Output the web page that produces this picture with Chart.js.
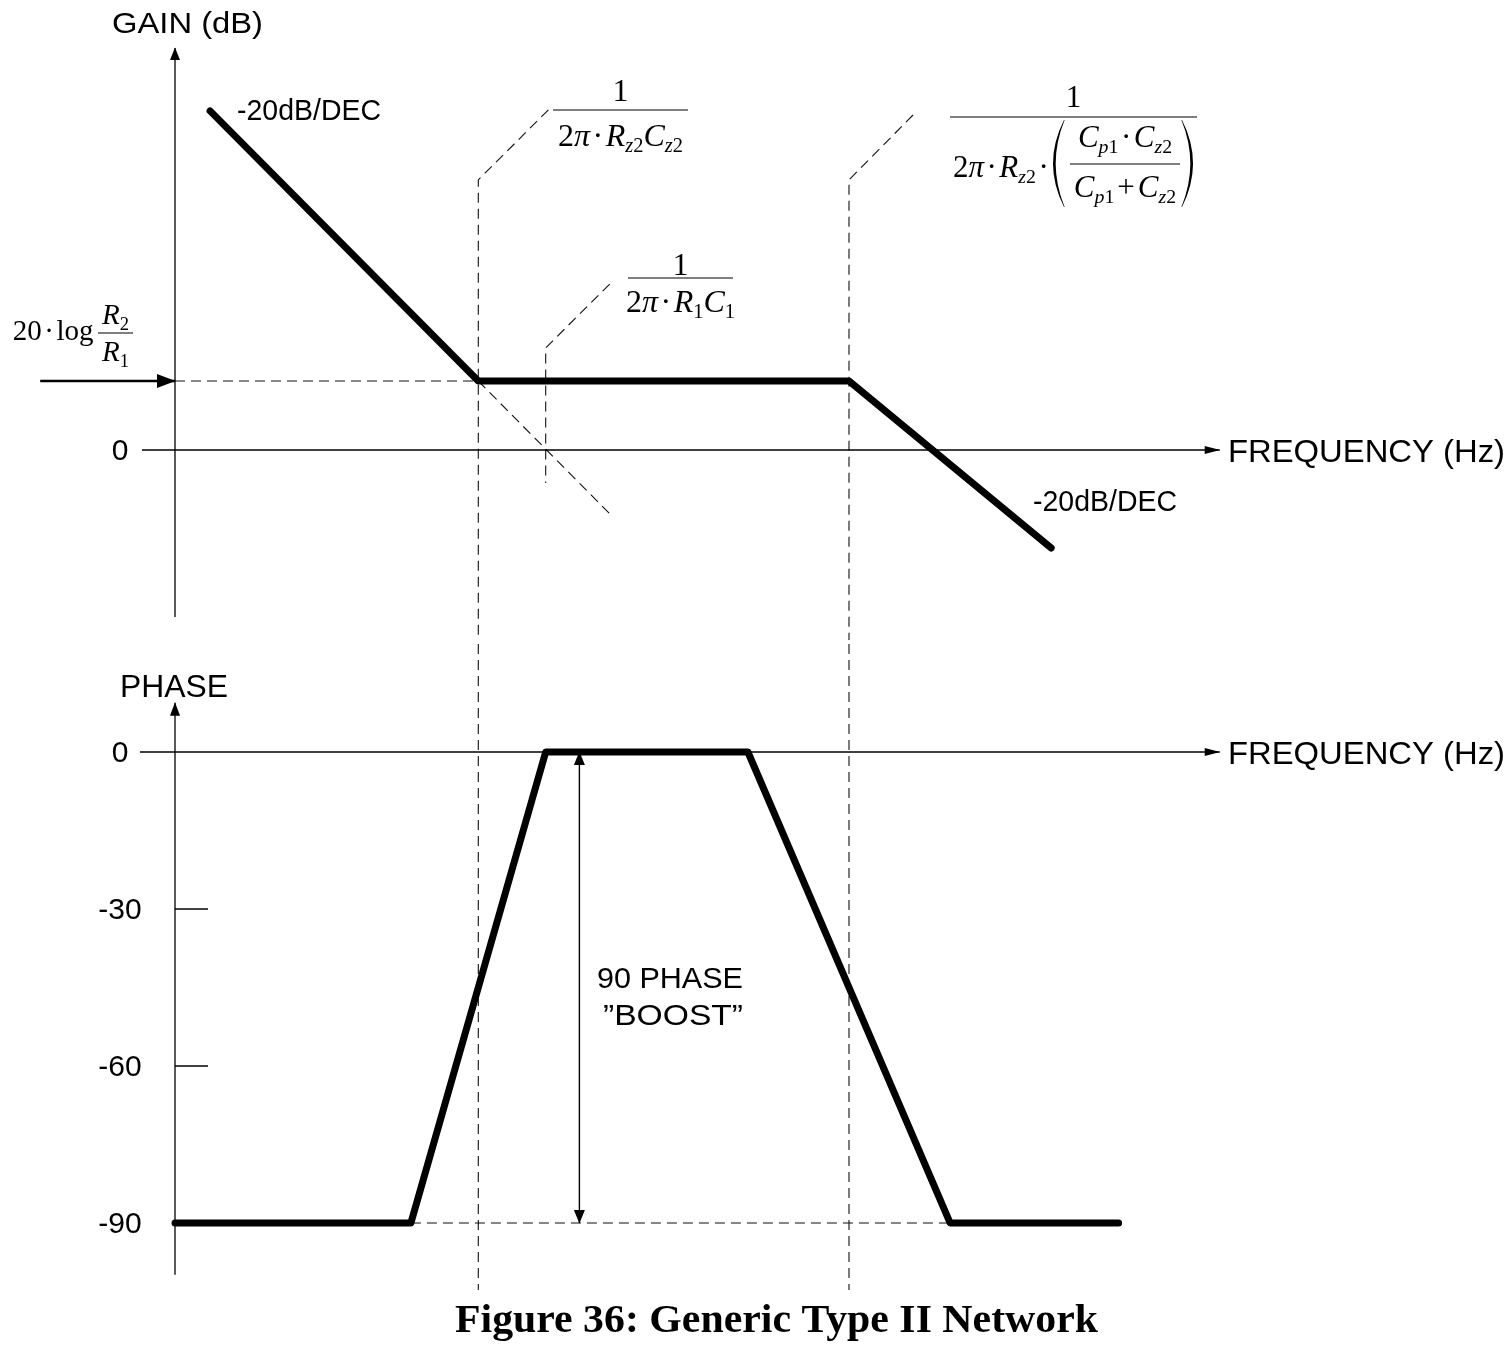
<!DOCTYPE html>
<html><head><meta charset="utf-8">
<script src="https://cdn.jsdelivr.net/npm/chart.js"></script>
<style>html,body{margin:0;padding:0;background:#fff;}canvas{display:block;}</style>
</head><body>
<canvas id="c" width="1507" height="1353"></canvas>
<script>
// ================= DATA (x = log-frequency in decades, schematic) =================
const gainFreq   = [0.52, 4.5, 10.0, 13.0];          // gain asymptote break points
const gainDb     = [98.3, 20, 20, -28.4];
const asymFreq   = [4.5, 6.45];                      // dashed continuation of -20 dB/dec slope
const asymDb     = [20, -18.5];
const phaseFreq  = [0, 3.5, 5.5, 8.5, 11.5, 14.0];
const phaseDeg   = [-90, -90, 0, 0, -90, -90];
const cornerFreq = [4.5, 5.5, 10.0];                 // 1/(2π Rz2Cz2), 1/(2π R1C1), pole
const leaderFreq = [5.54, 6.45, 10.95];              // slanted leader ends (to formulas)
const leaderDb   = [98.6, 48.1, 97.1];
const guideTopDb = [78.3, 29.6, 78.3];
const guideLowDb = [-55.1, -9.6, -55.1];
const guidePhaseDeg = [21.4, -102.8];                // continuation of fz / fp guides through phase plot
const midGainDb  = 20;                               // 20·log(R2/R1)
const phaseTickDeg = [0, -30, -60, -90];
const gainTickDb = [0];
const boostFreq  = 6.0;
const gainAxisDb   = [-48.4, 116.5];
const gainAxisFreq = [-0.49, 15.5];
const phaseAxisDeg = [-99.9, 9.4];
const phaseAxisFreq= [-0.52, 15.5];
const refArrowFreq = [-2.0, 0];
const tickLenDec = 0.49;

// ================= LAYOUT =================
const W = 1507, H = 1353;
const X0PX = 175, PX_PER_DEC = 67.4;
const G0PX = 450, PX_PER_DB = 3.45;
const P0PX = 752, PX_PER_DEG = 5.233;
const TEXT_DY = 2;

const pts = (xs, ys) => xs.map((x, i) => ({x, y: ys[i]}));
const base = {showLine: true, pointRadius: 0, pointHoverRadius: 0, fill: false, tension: 0};
const thick = {borderColor: '#000', borderWidth: 7, borderCapStyle: 'round', borderJoinStyle: 'round'};
const thin = {borderColor: '#000', borderWidth: 1.3};
const dash = {borderColor: '#111', borderWidth: 1.1, borderDash: [10, 6]};
const ds = (label, data, axis, style, extra) => Object.assign({label, data, yAxisID: axis}, base, style, extra || {});

const datasets = [
  ds('Gain', pts(gainFreq, gainDb), 'yG', thick),
  ds('Phase', pts(phaseFreq, phaseDeg), 'yP', thick),
  ds('gain y-axis', pts([0, 0], gainAxisDb), 'yG', thin, {arrow: {end: true, len: 12, half: 5}}),
  ds('gain x-axis', pts(gainAxisFreq, [0, 0]), 'yG', thin, {arrow: {end: true, len: 15, half: 4}}),
  ds('phase y-axis', pts([0, 0], phaseAxisDeg), 'yP', thin, {arrow: {end: true, len: 13, half: 5}}),
  ds('phase x-axis', pts(phaseAxisFreq, [0, 0]), 'yP', thin, {arrow: {end: true, len: 15, half: 4}}),
  ds('tick -30', pts([0, tickLenDec], [-30, -30]), 'yP', thin),
  ds('tick -60', pts([0, tickLenDec], [-60, -60]), 'yP', thin),
  ds('ref arrow', pts(refArrowFreq, [midGainDb, midGainDb]), 'yG', {borderColor: '#000', borderWidth: 2.4}, {arrow: {end: true, len: 18, half: 7}}),
  ds('boost arrow', pts([boostFreq, boostFreq], [0, -90]), 'yP', {borderColor: '#000', borderWidth: 1.4}, {arrow: {end: true, start: true, len: 13, half: 5.5}}),
  ds('mid gain ref', pts([0, cornerFreq[0]], [midGainDb, midGainDb]), 'yG', dash),
  ds('asymptote ext', pts(asymFreq, asymDb), 'yG', dash),
  ds('phase -90 ref', pts([phaseFreq[1], phaseFreq[4]], [-90, -90]), 'yP', dash),
];
cornerFreq.forEach((f, i) => {
  datasets.push(ds('guide ' + i, pts([leaderFreq[i], f, f], [leaderDb[i], guideTopDb[i], guideLowDb[i]]), 'yG', dash));
});
[0, 2].forEach(i => {
  datasets.push(ds('guide phase ' + i, pts([cornerFreq[i], cornerFreq[i]], guidePhaseDeg), 'yP', dash, {borderDashOffset: 12}));
});

// ================= TEXT =================
const SANS = '"Liberation Sans", Arial, Helvetica, sans-serif';
const SERIF = '"Liberation Serif", "Times New Roman", serif';
const labels = [
  {text: 'GAIN (dB)', x: -0.935, y: 123.9, axis: 'yG', size: 30, align: 'left', w: 151},
  {text: '-20dB/DEC', x: 0.92, y: 98.55, axis: 'yG', size: 29, align: 'left', w: 144},
  {text: 'FREQUENCY (Hz)', x: 15.623, y: -0.3, axis: 'yG', size: 31, align: 'left', w: 277},
  {text: '-20dB/DEC', x: 12.73, y: -14.78, axis: 'yG', size: 29, align: 'left', w: 144},
  {text: 'PHASE', x: -0.816, y: 12.61, axis: 'yP', size: 31, align: 'left', w: 108},
  {text: 'FREQUENCY (Hz)', x: 15.623, y: -0.19, axis: 'yP', size: 31, align: 'left', w: 277},
  {text: '90 PHASE', x: 7.344, y: -43.19, axis: 'yP', size: 30, align: 'center', w: 146},
  {text: '\u201DBOOST\u201D', x: 7.389, y: -50.3, axis: 'yP', size: 30, align: 'center', w: 140},
  {text: 'Figure 36: Generic Type II Network', x: 8.924, y: -108.54, axis: 'yP', size: 40, bold: true, serif: true, align: 'center', w: 643},
];
gainTickDb.forEach(v => labels.push({text: String(v), x: -0.816, y: v, axis: 'yG', size: 30, align: 'center'}));
phaseTickDeg.forEach(v => labels.push({text: String(v), x: -0.816, y: v, axis: 'yP', size: 30, align: 'center'}));

// formula pieces
const R = t => ({t}), I = t => ({t, i: 1}), Sb = (t, it) => ({t, s: 1, i: it ? 1 : 0});
const DOT = {t: '\u00B7', gl: 2.5, gr: 2.5}, PLUS = {t: '+', gl: 3, gr: 3};
const formulas = [
  {x: 6.61, y: 98.55, axis: 'yG', S: 32, barW: 135, num: [R('1')], numDy: -9,
   den: [R('2'), I('\u03C0'), DOT, I('R'), Sb('z', 1), Sb('2'), I('C'), Sb('z', 1), Sb('2')], denDy: 36},
  {x: 7.50, y: 49.86, axis: 'yG', S: 32, barW: 105, num: [R('1')], numDy: -3,
   den: [R('2'), I('\u03C0'), DOT, I('R'), Sb('1'), I('C'), Sb('1')], denDy: 34},
  {x: 13.331, y: 96.52, axis: 'yG', S: 31, barW: 247, num: [R('1')], numDy: -10,
   complex: {
     pre: [R('2'), I('\u03C0'), DOT, I('R'), Sb('z', 1), Sb('2'), DOT], preDx: -120.5, preDy: 60,
     parenL: -20.5, parenR: 119.5, parenTop: 3, parenBot: 90,
     inBarDx: 51.5, inBarDy: 47, inBarW: 110,
     inNum: [I('C'), Sb('p', 1), Sb('1'), DOT, I('C'), Sb('z', 1), Sb('2')], inNumDy: 30,
     inDen: [I('C'), Sb('p', 1), Sb('1'), PLUS, I('C'), Sb('z', 1), Sb('2')], inDenDy: 80 }},
  {x: -0.8828, y: 33.91, axis: 'yG', S: 29, barW: 35, num: [I('R'), Sb('2')], numDy: -9,
   den: [I('R'), Sb('1')], denDy: 28, pre: [R('20'), DOT, R('log')], preDx: -22, preDy: 7},
];

function segFont(sg, S) {
  const size = sg.s ? S * 0.64 : S;
  return (sg.i ? 'italic ' : '') + size + 'px ' + SERIF;
}
function richWidth(ctx, segs, S) {
  let w = 0;
  for (const sg of segs) { ctx.font = segFont(sg, S); w += ctx.measureText(sg.t).width + (sg.gl || 0) + (sg.gr || 0); }
  return w;
}
function drawRich(ctx, segs, x, baseY, S, align) {
  const w = richWidth(ctx, segs, S);
  let cx = align === 'center' ? x - w / 2 : align === 'right' ? x - w : x;
  ctx.textAlign = 'left'; ctx.textBaseline = 'alphabetic';
  for (const sg of segs) {
    ctx.font = segFont(sg, S);
    cx += sg.gl || 0;
    ctx.fillText(sg.t, cx, baseY + (sg.s ? S * 0.2 : 0));
    cx += ctx.measureText(sg.t).width + (sg.gr || 0);
  }
}
function bar(ctx, cx, y, w) {
  ctx.beginPath(); ctx.lineWidth = 1.2; ctx.moveTo(cx - w / 2, y); ctx.lineTo(cx + w / 2, y); ctx.stroke();
}
function paren(ctx, xEdge, top, bot, left) {
  const width = 11, thickP = 2.4, mid = (top + bot) / 2;
  const dir = left ? 1 : -1;
  const end = xEdge + dir * width;
  const cOut = 2 * xEdge - end;
  const cIn = 2 * (xEdge + dir * thickP) - end;
  ctx.beginPath();
  ctx.moveTo(end, top);
  ctx.quadraticCurveTo(cOut, mid, end, bot);
  ctx.lineTo(end + dir * 0.6, bot);
  ctx.quadraticCurveTo(cIn, mid, end + dir * 0.6, top);
  ctx.closePath(); ctx.fill();
}

const arrowPlugin = {
  id: 'arrows',
  afterDatasetsDraw(chart) {
    const ctx = chart.ctx;
    chart.data.datasets.forEach((d, i) => {
      if (!d.arrow) return;
      const p = chart.getDatasetMeta(i).data;
      const head = (tip, from) => {
        const a = Math.atan2(tip.y - from.y, tip.x - from.x);
        ctx.save(); ctx.translate(tip.x, tip.y); ctx.rotate(a);
        ctx.beginPath(); ctx.moveTo(0.5, 0); ctx.lineTo(-d.arrow.len, -d.arrow.half); ctx.lineTo(-d.arrow.len, d.arrow.half); ctx.closePath();
        ctx.fillStyle = d.borderColor; ctx.fill(); ctx.restore();
      };
      if (d.arrow.end) head(p[p.length - 1], p[p.length - 2]);
      if (d.arrow.start) head(p[0], p[1]);
    });
  }
};

const textPlugin = {
  id: 'texts',
  afterDraw(chart) {
    const ctx = chart.ctx, xs = chart.scales.x;
    ctx.save();
    ctx.fillStyle = '#000'; ctx.strokeStyle = '#000';
    for (const L of labels) {
      const px = xs.getPixelForValue(L.x), py = chart.scales[L.axis].getPixelForValue(L.y) + TEXT_DY;
      ctx.font = (L.bold ? 'bold ' : '') + L.size + 'px ' + (L.serif ? SERIF : SANS);
      const nat = ctx.measureText(L.text).width;
      const w = L.w || nat, sx = w / nat;
      const left = L.align === 'center' ? px - w / 2 : L.align === 'right' ? px - w : px;
      ctx.save(); ctx.translate(left, py); ctx.scale(sx, 1);
      ctx.textAlign = 'left'; ctx.textBaseline = 'middle';
      ctx.fillText(L.text, 0, 0); ctx.restore();
    }
    for (const F of formulas) {
      const cx = xs.getPixelForValue(F.x), cy = chart.scales[F.axis].getPixelForValue(F.y);
      bar(ctx, cx, cy, F.barW);
      drawRich(ctx, F.num, cx, cy + F.numDy, F.S, 'center');
      if (F.den) drawRich(ctx, F.den, cx, cy + F.denDy, F.S, 'center');
      if (F.pre) drawRich(ctx, F.pre, cx + F.preDx, cy + F.preDy, F.S, 'right');
      if (F.complex) {
        const C = F.complex;
        drawRich(ctx, C.pre, cx + C.preDx, cy + C.preDy, F.S, 'left');
        paren(ctx, cx + C.parenL, cy + C.parenTop, cy + C.parenBot, true);
        paren(ctx, cx + C.parenR, cy + C.parenTop, cy + C.parenBot, false);
        const ix = cx + C.inBarDx;
        bar(ctx, ix, cy + C.inBarDy, C.inBarW);
        drawRich(ctx, C.inNum, ix, cy + C.inNumDy, F.S, 'center');
        drawRich(ctx, C.inDen, ix, cy + C.inDenDy, F.S, 'center');
      }
    }
    ctx.restore();
  }
};

const gMax = G0PX / PX_PER_DB, pMax = P0PX / PX_PER_DEG;
new Chart(document.getElementById('c'), {
  type: 'scatter',
  data: {datasets},
  options: {
    responsive: false, animation: false, devicePixelRatio: 1,
    layout: {padding: 0},
    plugins: {legend: {display: false}, tooltip: {enabled: false}},
    events: [],
    scales: {
      x: {type: 'linear', display: false, bounds: 'data', min: -X0PX / PX_PER_DEC, max: (W - X0PX) / PX_PER_DEC},
      yG: {type: 'linear', display: false, bounds: 'data', min: gMax - H / PX_PER_DB, max: gMax},
      yP: {type: 'linear', display: false, bounds: 'data', min: pMax - H / PX_PER_DEG, max: pMax},
    }
  },
  plugins: [arrowPlugin, textPlugin]
});
</script>
</body></html>
